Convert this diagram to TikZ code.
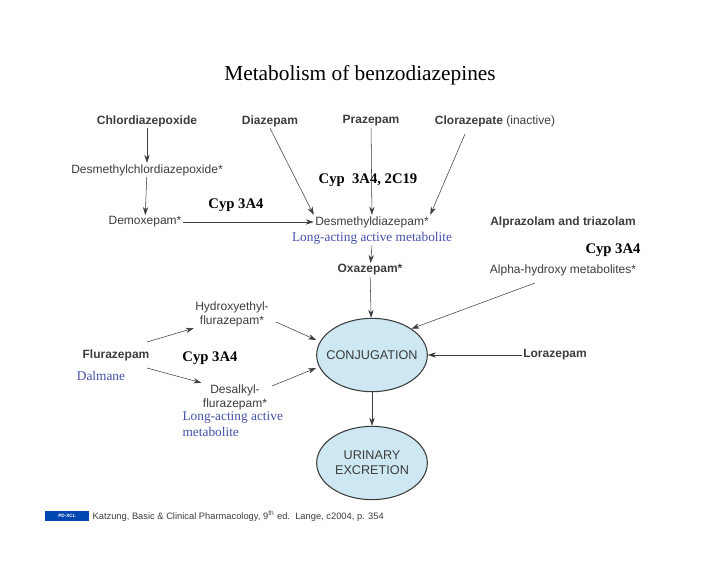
\documentclass[tikz,border=0pt]{standalone}
\usepackage{fontspec}
\setmainfont{Liberation Serif}
\newfontfamily\sns{Liberation Sans}
\usetikzlibrary{arrows.meta,shapes.geometric}
\definecolor{txt}{RGB}{60,60,60}
\definecolor{blu}{RGB}{70,80,170}
\definecolor{ell}{RGB}{205,232,242}
\begin{document}
\begin{tikzpicture}[x=0.75pt,y=-0.75pt,
 drug/.style={font=\sns\fontsize{9}{10}\selectfont\bfseries,text=txt,inner sep=1pt},
 met/.style={font=\sns\fontsize{9}{10.5}\selectfont,text=txt,inner sep=1pt,align=center},
 cyp/.style={font=\fontsize{11}{12}\selectfont\bfseries,inner sep=1pt},
 note/.style={font=\fontsize{10}{12}\selectfont,text=blu,inner sep=1pt,align=left},
 oval/.style={ellipse,draw=txt,fill=ell,thick,minimum width=83,minimum height=55,inner xsep=-9pt,inner ysep=0pt,align=center,font=\sns\fontsize{9.5}{11}\selectfont,text=txt},
 arr/.style={-{Stealth[length=6pt,width=4pt]},draw=txt,thin}]
\useasboundingbox (0,0) rectangle (728,563);
\node[font=\fontsize{16}{18}\selectfont] (title) at (360,75) {Metabolism of benzodiazepines};
\node[drug] (chl) at (147,121) {Chlordiazepoxide};
\node[drug] (dia) at (270,121) {Diazepam};
\node[drug] (pra) at (371,121) {Prazepam};
\node[drug] (clo) at (495,121) {Clorazepate \textmd{(inactive)}};
\node[met] (dmc) at (147,170) {Desmethylchlordiazepoxide*};
\node[met] (dem) at (145,222) {Demoxepam*};
\node[cyp] (c1) at (236,205) {Cyp 3A4};
\node[cyp] (c2) at (368,180) {Cyp\ \ 3A4, 2C19};
\node[met] (dmd) at (372,222) {Desmethyldiazepam*};
\node[note] (n1) at (372,238) {Long-acting active metabolite};
\node[drug] (alp) at (563,222) {Alprazolam and triazolam};
\node[cyp] (c3) at (613,250) {Cyp 3A4};
\node[met] (aho) at (563,270) {Alpha-hydroxy metabolites*};
\node[drug] (oxa) at (370,270) {Oxazepam*};
\node[met] (hyd) at (232,314) {Hydroxyethyl-\\flurazepam*};
\node[drug] (flu) at (116,355) {Flurazepam};
\node[note] (dal) at (101,376) {Dalmane};
\node[cyp] (c4) at (210,358) {Cyp 3A4};
\node[met] (des) at (235,397) {Desalkyl-\\flurazepam*};
\node[note,anchor=north west] (n2) at (181,410) {Long-acting active\\metabolite};
\node[oval] (conj) at (372,355) {CONJUGATION};
\node[oval] (uri) at (372,463) {URINARY\\EXCRETION};
\node[drug] (lor) at (555,355) {Lorazepam};
\node[fill=blue!60!cyan!70!black,text=white,font=\sns\fontsize{3.5}{4}\selectfont\bfseries,minimum width=33,minimum height=8,inner sep=0pt] (logo) at (67,516) {PD-XCL};
\node[anchor=west,font=\sns\fontsize{7}{8}\selectfont,text=txt,inner sep=1pt] (ref) at (91,516) {Katzung, Basic \& Clinical Pharmacology, 9\textsuperscript{th} ed.\ \ Lange, c2004, p. 354};
\draw[arr] (chl) -- (dmc);
\draw[arr] (dmc) -- (dem);
\draw[arr] (dem) -- (dmd);
\draw[arr] (dia.south) -- (dmd.north west);
\draw[arr] (pra) -- (dmd);
\coordinate (cs) at (465,134);
\draw[arr] (cs) -- (dmd.north east);
\draw[arr] (dmd.south |- n1.south) -- (oxa);
\draw[arr] (oxa) -- (conj);
\coordinate (as) at (535,283);
\draw[arr] (as) -- (conj.north east);
\draw[arr] (lor) -- (conj);
\coordinate (hs) at (276,322);
\coordinate (ds) at (272,386);
\draw[arr] (hs) -- (conj.west|-340,340);
\draw[arr] (ds) -- (conj.west|-368,368);
\coordinate (f1) at (147,342);
\coordinate (f2) at (147,368);
\draw[arr] (f1) -- (hyd.south west);
\draw[arr] (f2) -- (des.north west);
\draw[arr] (conj) -- (uri);
\end{tikzpicture}
\end{document}
